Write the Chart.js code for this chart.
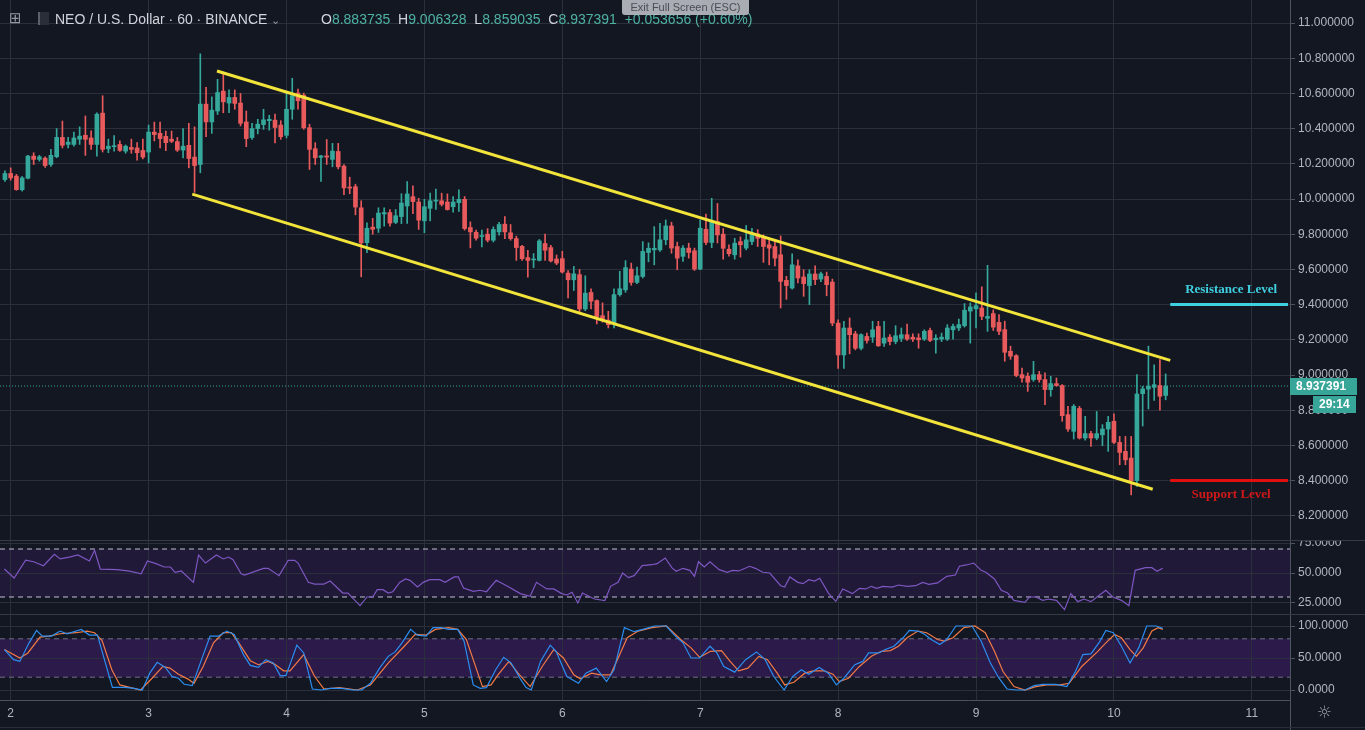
<!DOCTYPE html>
<html>
<head>
<meta charset="utf-8">
<title>NEO / U.S. Dollar 60 BINANCE</title>
<script src="https://cdn.jsdelivr.net/npm/chart.js@4.4.1/dist/chart.umd.min.js"></script>
<style>
  html, body { margin: 0; padding: 0; background: #131722; }
  body { width: 1365px; height: 730px; position: relative; overflow: hidden; font-family: "Liberation Sans", Arial, sans-serif; }
  canvas { position: absolute; left: 0; }
  .sep { position: absolute; background: #363a45; }
  .hdr { position: absolute; top: 11px; font-size: 14px; color: #d1d4dc; white-space: pre; line-height: 16px; }
  .num { color: #4fb3a3; }
  #exitFs { position: absolute; left: 622px; top: 0; width: 127px; height: 15px; background: rgba(186,188,194,0.9);
            color: #4a4d56; font-size: 11px; line-height: 15px; text-align: center; border-radius: 0 0 3px 3px; }
  #gear { position: absolute; left: 1317px; top: 702px; font-size: 17px; color: #9598a1; font-family: "DejaVu Sans", sans-serif; }
</style>
</head>
<body>
<canvas id="priceChart" width="1365" height="540" style="top:0"></canvas>
<div class="sep" style="left:0;top:540px;width:1365px;height:1px"></div>
<canvas id="rsiChart" width="1365" height="73" style="top:541px"></canvas>
<div class="sep" style="left:0;top:614px;width:1365px;height:1px"></div>
<canvas id="stochChart" width="1365" height="115" style="top:615px"></canvas>
<div class="sep" style="left:1290px;top:700px;width:1px;height:30px;background:#4c525e"></div>
<div class="sep" style="left:0;top:727px;width:1365px;height:1px;background:#2a2e39"></div>

<div class="hdr" style="left:9px;top:10px;color:#9598a1;font-size:15px;font-family:'DejaVu Sans'">⊞</div>
<div style="position:absolute;left:38px;top:12px;width:9px;height:13px;background:#2a2e39;border-left:2px solid #5d606b"></div>
<div class="hdr" style="left:55px">NEO / U.S. Dollar · 60 · BINANCE <span style="font-size:11px;color:#9598a1">⌄</span></div>
<div class="hdr" id="ohlc" style="left:321px"></div>
<div id="exitFs">Exit Full Screen (ESC)</div>
<div id="gear">☼</div>

<script>
// hourly candles, first one starts one hour before day 2
const FIRST_HOUR = -1;

const candleOpen = [
  10.11,10.145,10.13,10.053,10.118,10.244,10.225,10.232,10.196,10.24,
  10.35,10.31,10.31,10.34,10.362,10.347,10.31,10.488,10.285,10.297,
  10.31,10.272,10.293,10.29,10.276,10.267,10.38,10.373,10.356,10.34,
  10.326,10.278,10.305,10.238,10.196,10.539,10.438,10.50,10.613,10.545,
  10.577,10.545,10.438,10.349,10.40,10.423,10.445,10.448,10.42,10.362,
  10.51,10.602,10.59,10.405,10.286,10.237,10.245,10.225,10.27,10.187,
  10.068,10.07,9.95,9.752,9.84,9.834,9.915,9.923,9.867,9.90,
  9.96,10.013,9.983,9.876,9.947,9.988,9.99,9.983,9.956,9.979,
  9.998,9.838,9.811,9.787,9.80,9.766,9.813,9.857,9.808,9.775,
  9.731,9.667,9.654,9.651,9.747,9.724,9.659,9.661,9.579,9.541,
  9.57,9.375,9.469,9.423,9.337,9.312,9.29,9.457,9.484,9.602,
  9.526,9.56,9.696,9.711,9.711,9.768,9.847,9.73,9.674,9.721,
  9.706,9.602,9.828,9.753,9.872,9.80,9.715,9.683,9.758,9.721,
  9.758,9.802,9.783,9.74,9.73,9.683,9.538,9.494,9.62,9.557,
  9.508,9.574,9.545,9.56,9.528,9.295,9.114,9.267,9.234,9.152,
  9.219,9.215,9.276,9.181,9.215,9.19,9.208,9.229,9.215,9.211,
  9.204,9.253,9.2,9.204,9.204,9.257,9.267,9.28,9.363,9.376,
  9.381,9.322,9.349,9.299,9.258,9.135,9.11,9.002,8.993,8.974,
  9.002,8.974,8.917,8.951,8.94,8.775,8.68,8.81,8.642,8.667,
  8.642,8.66,8.693,8.737,8.617,8.566,8.528,8.40,8.894,8.92,
  8.93,8.94,8.883735
];
const candleHigh = [
  10.16,10.177,10.14,10.128,10.248,10.263,10.248,10.24,10.282,10.40,
  10.443,10.35,10.38,10.41,10.472,10.387,10.49,10.587,10.34,10.36,
  10.33,10.307,10.34,10.32,10.34,10.42,10.437,10.437,10.386,10.386,
  10.35,10.40,10.43,10.41,10.825,10.634,10.58,10.68,10.72,10.62,
  10.62,10.60,10.50,10.43,10.453,10.51,10.476,10.482,10.445,10.606,
  10.686,10.625,10.602,10.425,10.32,10.248,10.338,10.316,10.316,10.196,
  10.124,10.084,9.99,9.865,9.89,9.95,9.95,9.94,9.94,10.03,
  10.099,10.075,10.004,9.998,10.033,10.056,10.033,10.029,10.014,10.052,
  10.014,9.87,9.823,9.823,9.832,9.842,9.867,9.90,9.855,9.789,
  9.737,9.709,9.69,9.77,9.80,9.737,9.682,9.703,9.594,9.617,
  9.60,9.564,9.49,9.427,9.41,9.362,9.49,9.589,9.65,9.636,
  9.613,9.758,9.751,9.843,9.862,9.881,9.868,9.755,9.736,9.749,
  9.721,9.881,9.915,10.004,9.975,9.832,9.74,9.777,9.785,9.85,
  9.834,9.826,9.796,9.768,9.768,9.79,9.561,9.689,9.655,9.598,
  9.598,9.62,9.585,9.585,9.545,9.314,9.305,9.324,9.248,9.234,
  9.238,9.305,9.305,9.305,9.229,9.28,9.267,9.29,9.234,9.234,
  9.257,9.267,9.229,9.238,9.286,9.29,9.318,9.406,9.41,9.467,
  9.501,9.623,9.37,9.343,9.306,9.164,9.116,9.04,9.012,9.078,
  9.021,9.012,8.993,8.983,8.946,8.822,8.832,8.822,8.765,8.68,
  8.793,8.718,8.765,8.78,8.651,8.651,8.651,9.002,8.936,9.164,
  9.058,9.088,9.006328
];
const candleLow = [
  10.10,10.107,10.05,10.045,10.114,10.196,10.215,10.18,10.185,10.234,
  10.29,10.29,10.30,10.31,10.248,10.282,10.244,10.267,10.263,10.272,
  10.27,10.26,10.26,10.22,10.228,10.205,10.33,10.29,10.274,10.32,
  10.27,10.234,10.177,10.038,10.149,10.354,10.373,10.48,10.49,10.49,
  10.51,10.415,10.297,10.338,10.37,10.396,10.391,10.318,10.339,10.347,
  10.453,10.51,10.396,10.168,10.196,10.10,10.196,10.183,10.171,10.025,
  10.03,9.91,9.558,9.695,9.80,9.81,9.846,9.846,9.86,9.86,
  9.861,9.916,9.827,9.808,9.876,9.941,9.96,9.937,9.925,9.93,
  9.823,9.722,9.766,9.728,9.756,9.756,9.794,9.775,9.766,9.651,
  9.651,9.556,9.61,9.648,9.651,9.642,9.627,9.579,9.438,9.48,
  9.356,9.365,9.375,9.29,9.30,9.267,9.267,9.448,9.47,9.51,
  9.519,9.551,9.643,9.626,9.702,9.74,9.692,9.598,9.646,9.664,
  9.594,9.598,9.74,9.723,9.75,9.658,9.675,9.658,9.67,9.711,
  9.74,9.73,9.64,9.626,9.62,9.381,9.43,9.487,9.523,9.447,
  9.40,9.513,9.53,9.45,9.28,9.038,9.038,9.12,9.143,9.143,
  9.181,9.185,9.162,9.162,9.171,9.177,9.19,9.196,9.19,9.152,
  9.196,9.19,9.124,9.19,9.196,9.204,9.252,9.272,9.181,9.267,
  9.314,9.248,9.253,9.229,9.078,9.089,8.99,8.959,8.907,8.964,
  8.959,8.831,8.879,8.936,8.737,8.68,8.636,8.636,8.63,8.594,
  8.632,8.598,8.566,8.61,8.49,8.49,8.319,8.367,8.71,8.807,
  8.856,8.80,8.859035
];
const candleClose = [
  10.145,10.12,10.053,10.12,10.244,10.225,10.24,10.19,10.248,10.35,
  10.305,10.323,10.347,10.357,10.339,10.31,10.482,10.282,10.30,10.303,
  10.276,10.30,10.282,10.263,10.238,10.38,10.366,10.343,10.32,10.328,
  10.278,10.30,10.23,10.19,10.539,10.438,10.505,10.605,10.552,10.577,
  10.543,10.43,10.343,10.40,10.425,10.45,10.453,10.406,10.354,10.51,
  10.587,10.558,10.405,10.282,10.234,10.245,10.238,10.272,10.183,10.063,
  10.062,9.954,9.75,9.834,9.828,9.92,9.923,9.863,9.905,9.977,
  10.029,9.985,9.88,9.956,9.99,9.99,9.97,9.94,9.983,9.998,
  9.832,9.813,9.777,9.79,9.766,9.827,9.855,9.813,9.775,9.724,
  9.661,9.651,9.659,9.762,9.709,9.648,9.636,9.585,9.541,9.575,
  9.375,9.465,9.419,9.331,9.308,9.286,9.457,9.49,9.61,9.526,
  9.564,9.702,9.72,9.72,9.768,9.847,9.721,9.664,9.721,9.696,
  9.602,9.834,9.753,9.872,9.796,9.72,9.689,9.749,9.74,9.768,
  9.806,9.777,9.73,9.721,9.664,9.532,9.508,9.626,9.551,9.519,
  9.574,9.542,9.575,9.513,9.295,9.114,9.267,9.229,9.152,9.229,
  9.196,9.257,9.166,9.21,9.19,9.223,9.229,9.204,9.204,9.2,
  9.248,9.196,9.209,9.215,9.267,9.276,9.286,9.368,9.387,9.394,
  9.333,9.333,9.272,9.248,9.129,9.107,8.997,8.983,8.959,9.002,
  8.974,8.917,8.951,8.94,8.769,8.693,8.822,8.642,8.667,8.642,
  8.667,8.693,8.731,8.617,8.56,8.518,8.40,8.892,8.921,8.936,
  8.945,8.879,8.937391
];

// RSI line, read at its turning points (x in hours from day 2)
const rsiHours = [
  -1.1,0.6,2.6,4.0,5.7,7.6,8.6,10.2,11.7,13.7,
  14.6,15.6,18.5,20.7,22.7,23.8,25.3,26.7,27.8,28.6,
  29.7,31.8,32.7,33.9,35.8,37.0,37.9,38.7,40.1,40.7,
  44.0,44.8,46.7,48.3,49.4,50.0,51.8,52.9,54.5,55.6,
  57.8,58.7,60.8,62.0,63.0,63.8,64.8,65.7,66.5,67.7,
  68.7,69.5,70.8,71.8,72.9,74.7,75.6,77.2,77.9,78.8,
  80.5,81.7,82.8,84.5,86.7,88.7,90.4,91.5,93.3,94.5,
  95.9,96.8,97.7,98.7,99.5,101.6,103.4,104.4,105.7,106.5,
  107.5,108.5,109.9,111.6,112.5,113.9,115.1,115.8,117.0,118.2,
  119.0,119.7,120.7,121.7,123.3,124.7,125.6,126.7,128.6,129.6,
  130.9,132.1,134.0,134.7,135.6,137.0,137.9,138.9,139.9,140.8,
  142.3,143.6,144.8,146.5,147.7,148.8,149.8,150.7,151.8,153.4,
  154.5,156.0,157.5,158.7,159.8,161.3,162.9,164.4,165.1,166.3,
  167.6,168.9,169.7,171.2,172.4,173.5,174.6,176.5,177.3,178.4,
  179.6,180.7,182.0,183.4,184.5,185.7,186.8,188.0,189.5,190.6,
  191.8,193.3,194.6,195.7,197.5,198.6,199.5,200.5
];
const rsiValues = [
  53.3,45.8,60.6,59.4,56.1,65.6,61.7,63.3,65.0,60.0,
  68.9,53.3,52.8,51.5,49.4,60.0,57.8,55.0,55.0,50.6,
  51.7,42.2,65.0,58.3,65.0,61.7,63.3,61.1,49.4,48.3,
  53.9,53.9,47.8,60.6,60.6,58.3,42.2,40.8,40.8,43.3,
  33.3,33.3,22.8,30.0,30.0,36.1,36.1,33.3,34.4,42.2,
  45.0,43.9,38.3,42.2,44.4,44.4,42.2,46.7,46.7,37.5,
  34.7,35.6,34.4,43.9,38.3,32.8,30.6,42.2,36.7,36.7,
  32.8,31.7,33.9,25.0,33.3,28.3,27.0,38.9,42.2,50.0,
  46.1,47.8,56.1,56.9,57.8,62.5,54.2,51.4,53.9,52.2,
  47.2,59.4,55.0,59.4,52.8,50.6,52.2,51.7,55.6,53.9,
  50.6,50.0,39.4,38.3,46.7,42.2,41.1,44.4,43.3,45.6,
  33.3,26.4,36.7,32.8,37.2,36.7,38.9,37.2,38.9,38.3,
  40.0,38.9,39.4,42.2,40.6,41.7,47.2,48.3,55.6,56.7,
  58.3,52.2,50.6,45.0,35.6,33.3,27.2,25.6,30.0,30.0,
  27.2,28.3,27.2,19.4,32.8,26.1,28.3,26.1,31.7,35.6,
  30.0,27.2,22.8,52.2,54.4,54.4,51.4,53.9
];

// Stoch RSI %K (blue) and %D (orange), read at turning points
const stochKHours = [
  -1.1,0.5,1.6,3.2,4.5,5.5,7.1,8.6,9.8,12.3,
  13.7,15.1,16.4,17.7,19.9,21.5,22.9,24.2,25.5,26.9,
  28.1,29.2,30.2,31.6,33.1,34.7,36.2,37.6,38.9,40.5,
  41.7,43.1,44.4,45.7,46.9,47.9,48.8,49.8,51.0,52.5,
  54.1,55.6,57.6,59.5,61.1,62.6,64.2,65.7,66.9,68.1,
  69.6,70.8,72.3,73.5,74.9,76.2,77.8,78.9,80.5,81.7,
  82.8,84.4,85.8,87.1,88.7,89.7,90.6,92.2,93.9,94.9,
  96.8,98.8,100.1,101.9,103.7,105.0,106.8,108.5,110.0,112.0,
  114.1,115.5,117.0,118.4,119.9,121.7,122.9,124.1,126.0,127.9,
  129.8,131.3,132.8,134.6,136.1,137.6,138.9,140.7,142.3,143.7,
  145.0,146.9,148.3,149.3,151.1,152.2,153.7,155.3,156.4,157.9,
  159.1,160.2,161.7,162.9,164.5,167.3,168.9,170.5,172.0,173.4,
  175.0,176.5,178.1,179.6,181.9,183.8,185.3,186.6,188.0,189.5,
  190.6,191.9,193.3,194.8,196.3,197.7,199.4,200.5
];
const stochKValues = [
  63.2,47.4,44.7,73.7,93.2,84.2,84.2,92.1,87.9,94.7,
  85.8,85.8,44.7,4.2,4.2,2.6,0,26.3,43.2,35.3,
  21.1,18.4,9.0,6.8,44.7,84.2,84.2,92.1,86.8,55.3,
  38.4,35.3,47.4,42.1,22.6,22.6,44.7,70.0,57.9,1.6,
  0,2.6,2.6,0,0,10.5,34.2,52.6,59.5,73.7,
  94.7,85.8,84.2,97.4,97.4,94.7,94.7,76.3,7.9,2.6,
  3.7,31.6,51.1,42.1,17.4,3.7,0,44.7,70.0,60.5,
  21.1,10.5,26.3,34.2,13.2,31.6,97.4,91.1,94.7,100,
  100,85.8,73.7,50,50,68.4,57.9,36.8,27.9,47.4,
  59.5,47.4,21.1,0,21.1,31.6,24.7,35.3,26.3,7.9,
  18.4,39.5,44.7,57.9,57.9,63.2,68.4,81.6,93.2,92.1,
  86.8,78.9,71.1,78.9,100,100,76.3,42.1,18.4,1.6,
  0,0,6.8,8.9,8.9,5.3,28.9,55.3,56.3,75.3,
  93.2,89.5,68.4,42.1,65.8,100,100,96.3
];
const stochDHours = [
  -1.1,1.6,3.0,5.1,6.7,8.6,11.4,13.3,14.6,15.9,
  17.6,19.0,20.7,22.6,24.6,26.5,27.7,29.2,30.8,31.9,
  33.5,35.3,37.0,38.4,39.7,41.7,43.1,44.8,45.9,47.5,
  48.6,51.0,52.9,54.5,57.2,60.3,62.6,65.7,68.5,70.4,
  72.3,73.9,76.2,77.8,79.3,82.1,83.6,84.8,86.7,88.3,
  90.4,92.5,94.5,96.2,98.0,99.1,101.1,102.6,104.4,107.3,
  109.2,111.6,114.1,116.6,118.4,119.9,121.8,123.7,125.2,126.7,
  128.3,130.2,131.7,133.4,134.7,136.3,138.2,139.7,141.6,143.1,
  144.2,145.8,147.7,149.8,151.5,153.1,154.5,156.0,157.9,159.4,
  161.3,162.5,164.0,165.9,167.8,169.6,171.2,172.7,174.6,176.5,
  178.4,180.3,182.6,184.2,186.4,189.1,190.6,192.1,193.3,194.8,
  195.9,197.1,198.6,199.7,200.5
];
const stochDValues = [
  63.2,50,57.9,82.6,84.2,87.9,89.5,92.1,89.5,77.4,
  31.6,7.9,4.2,0,18.4,36.8,34.2,24.7,17.4,10.5,
  36.8,73.7,89.5,89.5,73.7,45.8,39.5,44.7,40.5,30,
  30,55.3,21.1,1.6,3.7,0,7.9,42.1,68.4,86.8,
  85.8,94.7,97.4,94.7,78.9,5.3,7.9,23.7,44.7,26.3,
  5.3,36.8,63.2,50,23.7,17.4,26.3,23.7,23.7,81.6,
  92.1,97.4,100,78.9,65.8,51.1,60.5,61.6,44.7,30,
  34.2,52.6,47.4,26.3,7.9,12.1,26.3,30,30,24.7,
  13.2,18.4,36.8,52.6,60.5,61.6,68.4,81.6,92.1,89.5,
  78.9,76.3,81.6,97.4,100,89.5,60.5,28.9,5.3,0,
  5.3,7.9,7.9,10.5,36.8,59.5,73.7,86.8,81.6,63.2,
  52.6,65.8,92.1,97.4,94.7
];

// drawn channel (hour, price) and the two horizontal levels
const channelUpper = [[35.9, 10.727], [201.8, 9.083]];
const channelLower = [[31.6, 10.028], [198.75, 8.351]];
const levelNames = ['Resistance Level', 'Support Level'];
const levelPrices = [9.4, 8.4];
const levelSpan = [201.8, 222.3];
const levelLabelHour = 212.4;

// axes
const dayHours = [0, 24, 48, 72, 96, 120, 144, 168, 192, 216];
const dayLabels = ['2', '3', '4', '5', '6', '7', '8', '9', '10', '11'];
const priceTicks = [8.2, 8.4, 8.6, 8.8, 9.0, 9.2, 9.4, 9.6, 9.8, 10.0, 10.2, 10.4, 10.6, 10.8, 11.0];
const rsiTicks = [25, 50, 75];
const stochTicks = [0, 50, 100];
const rsiBand = [30, 70];
const stochBand = [20, 80];
const countdown = '29:14';

const X_MIN = -1.86, X_MAX = 222.64;
const UP = '#35a89b', DOWN = '#e85a5c';
const GRID = '#2b2f3b', AXIS_LINE = '#4c525e', TEXT = '#b2b5be';
const TAG = '#37a597';

const lastIdx = candleClose.length - 1;
const lastClose = candleClose[lastIdx];

// header line
(function () {
  const o = candleOpen[lastIdx], h = candleHigh[lastIdx], l = candleLow[lastIdx];
  const chg = lastClose - o, pct = chg / o * 100;
  const part = (k, v) => k + '<span class="num">' + v + '</span>';
  document.getElementById('ohlc').innerHTML =
    part('O', o.toFixed(6)) + '  ' + part('H', h.toFixed(6)) + '  ' + part('L', l.toFixed(6)) + '  ' +
    part('C', lastClose.toFixed(6)) + '  <span class="num">+' + chg.toFixed(6) + ' (+' + pct.toFixed(2) + '%)</span>';
})();

const candleHours = candleOpen.map((_, i) => FIRST_HOUR + i);
const candleColors = candleOpen.map((o, i) => candleClose[i] >= o ? UP : DOWN);
const toXY = (hours, vals) => hours.map((h, i) => ({ x: h, y: vals[i] }));
const flat = (v) => [{ x: X_MIN, y: v }, { x: X_MAX, y: v }];

function timeScale(showLabels) {
  return {
    type: 'linear', min: X_MIN, max: X_MAX, offset: false,
    afterBuildTicks: s => { s.ticks = dayHours.map(v => ({ value: v })); },
    grid: { color: GRID, offset: false, drawTicks: false },
    border: { display: showLabels, color: AXIS_LINE },
    ticks: { display: showLabels, color: TEXT, font: { size: 12 }, padding: 6, maxRotation: 0, autoSkip: false,
             callback: (v, i) => dayLabels[i] },
    afterFit: s => { s.height = showLabels ? 30 : 0; s.paddingLeft = 0; s.paddingRight = 0; }
  };
}

function valueScale(min, max, tickValues, digits) {
  return {
    type: 'linear', position: 'right', min: min, max: max,
    afterBuildTicks: s => { s.ticks = tickValues.map(v => ({ value: v })); },
    grid: { color: GRID, tickLength: 5, tickColor: AXIS_LINE },
    border: { color: AXIS_LINE },
    ticks: { color: TEXT, font: { size: 12 }, padding: 3, autoSkip: false, callback: v => v.toFixed(digits) },
    // keep the plot area flush with the pane edges
    afterFit: s => { s.width = 75; s.paddingTop = 0; s.paddingBottom = 0; }
  };
}

const baseOptions = {
  responsive: false,
  devicePixelRatio: 1,
  animation: false,
  layout: { padding: 0 },
  plugins: { legend: { display: false }, tooltip: { enabled: false } }
};

// purple band behind an oscillator
const bandPlugin = {
  id: 'band',
  beforeDraw(chart, args, opts) {
    const { ctx, chartArea: a, scales: { y } } = chart;
    const top = y.getPixelForValue(opts.range[1]);
    const bottom = y.getPixelForValue(opts.range[0]);
    ctx.save();
    ctx.fillStyle = opts.color;
    ctx.fillRect(a.left, top, a.right - a.left, bottom - top);
    ctx.restore();
  }
};

const levelTextPlugin = {
  id: 'levelText',
  afterDatasetsDraw(chart) {
    const { ctx, scales: { x, y } } = chart;
    const colors = ['#3fd0e0', '#d01818'];
    const shift = [-15, 14];
    ctx.save();
    ctx.font = 'bold 13px "Liberation Serif", serif';
    ctx.textAlign = 'center';
    ctx.textBaseline = 'middle';
    levelNames.forEach((name, i) => {
      ctx.fillStyle = colors[i];
      ctx.fillText(name, x.getPixelForValue(levelLabelHour), y.getPixelForValue(levelPrices[i]) + shift[i]);
    });
    ctx.restore();
  }
};

const priceTagPlugin = {
  id: 'priceTag',
  afterDraw(chart) {
    const { ctx, chartArea: a, scales: { y } } = chart;
    const py = Math.round(y.getPixelForValue(lastClose));
    ctx.save();
    ctx.fillStyle = TAG;
    ctx.fillRect(a.right, py - 8, 67, 17);
    ctx.fillRect(a.right + 23, py + 10, 43, 17);
    ctx.fillStyle = '#ffffff';
    ctx.font = 'bold 12px "Liberation Sans", Arial, sans-serif';
    ctx.textBaseline = 'middle';
    ctx.fillText(lastClose.toFixed(6), a.right + 6, py + 1);
    ctx.fillText(countdown, a.right + 29, py + 19);
    ctx.restore();
  }
};

new Chart(document.getElementById('priceChart'), {
  type: 'bar',
  data: {
    datasets: [
      { type: 'line', data: flat(lastClose), borderColor: TAG, borderWidth: 1, borderDash: [1, 2], pointRadius: 0, order: 3 },
      { type: 'bar', data: candleHours.map((h, i) => ({ x: h, y: [candleLow[i], candleHigh[i]] })),
        backgroundColor: candleColors, barThickness: 1, grouped: false, order: 2 },
      { type: 'bar', data: candleHours.map((h, i) => ({ x: h, y: [candleOpen[i], candleClose[i]] })),
        backgroundColor: candleColors, barThickness: 4, grouped: false, minBarLength: 1, order: 1 },
      { type: 'line', data: channelUpper.map(p => ({ x: p[0], y: p[1] })), borderColor: '#f2e43a', borderWidth: 3, pointRadius: 0, order: 0 },
      { type: 'line', data: channelLower.map(p => ({ x: p[0], y: p[1] })), borderColor: '#f2e43a', borderWidth: 3, pointRadius: 0, order: 0 },
      { type: 'line', data: levelSpan.map(h => ({ x: h, y: levelPrices[0] })), borderColor: '#3fd0e0', borderWidth: 3, pointRadius: 0, order: 0 },
      { type: 'line', data: levelSpan.map(h => ({ x: h, y: levelPrices[1] })), borderColor: '#e01010', borderWidth: 3, pointRadius: 0, order: 0 }
    ]
  },
  options: Object.assign({}, baseOptions, {
    scales: { x: timeScale(false), y: valueScale(8.0625, 11.1307, priceTicks, 6) }
  }),
  plugins: [levelTextPlugin, priceTagPlugin]
});

new Chart(document.getElementById('rsiChart'), {
  type: 'line',
  data: {
    datasets: [
      { data: toXY(rsiHours, rsiValues), borderColor: '#7e57c2', borderWidth: 1.2, pointRadius: 0 },
      { data: flat(rsiBand[1]), borderColor: '#c3bfd8', borderWidth: 1, borderDash: [5, 4], pointRadius: 0 },
      { data: flat(rsiBand[0]), borderColor: '#c3bfd8', borderWidth: 1, borderDash: [5, 4], pointRadius: 0 }
    ]
  },
  options: Object.assign({}, baseOptions, {
    plugins: Object.assign({}, baseOptions.plugins, { band: { range: rsiBand, color: '#201938' } }),
    scales: { x: timeScale(false), y: valueScale(15.83, 76.67, rsiTicks, 4) }
  }),
  plugins: [bandPlugin]
});

new Chart(document.getElementById('stochChart'), {
  type: 'line',
  data: {
    datasets: [
      { data: toXY(stochKHours, stochKValues), borderColor: '#2b8ef0', borderWidth: 1.2, pointRadius: 0 },
      { data: toXY(stochDHours, stochDValues), borderColor: '#f27a45', borderWidth: 1.2, pointRadius: 0 },
      { data: flat(stochBand[1]), borderColor: '#6e7180', borderWidth: 1, borderDash: [5, 4], pointRadius: 0 },
      { data: flat(stochBand[0]), borderColor: '#6e7180', borderWidth: 1, borderDash: [5, 4], pointRadius: 0 }
    ]
  },
  options: Object.assign({}, baseOptions, {
    plugins: Object.assign({}, baseOptions.plugins, { band: { range: stochBand, color: '#2b1a4a' } }),
    scales: { x: timeScale(true), y: valueScale(-15.625, 117.19, stochTicks, 4) }
  }),
  plugins: [bandPlugin]
});
</script>
</body>
</html>
